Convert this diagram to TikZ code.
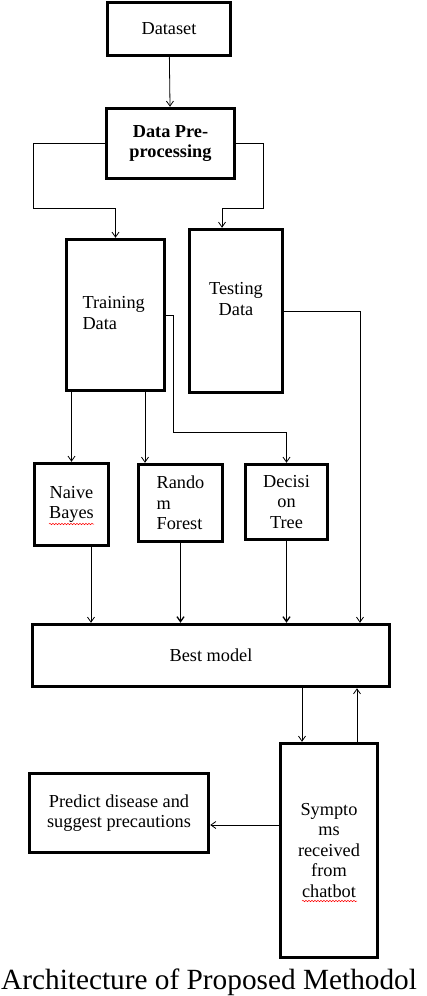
\documentclass[tikz,border=0pt]{standalone}
\usepackage{fontspec}
\setmainfont{Liberation Serif}
\usetikzlibrary{arrows.meta,decorations.pathmorphing}
\tikzset{
  box/.style={draw, line width=3.5pt, inner sep=0pt, align=center,
    font=\fontsize{18.3}{20.5}\selectfont},
  arr/.style={line width=0.8pt, -{Straight Barb[length=5pt,width=7pt]}},
  arrthick/.style={line width=1.3pt, -{Straight Barb[length=5pt,width=7pt]}},
  squiggle/.style={red, line width=0.5pt, decorate,
    decoration={snake, segment length=3pt, amplitude=0.7pt}}
}
\begin{document}
\begin{tikzpicture}[x=1pt,y=-1pt]
\clip (0,0) rectangle (426,996);
\fill[white] (0,0) rectangle (426,996);
% nodes
\node[box, minimum width=123pt, minimum height=53pt] (ds) at (169,29) {Dataset};
\node[box, minimum width=128pt, minimum height=70pt] (pre) at (170.5,143.5) {\bfseries Data Pre-\\\bfseries processing};
\node[box, minimum width=98pt, minimum height=151pt, align=left, text width=66pt] (train) at (115.5,315) {Training\\Data\phantom{g}};
\node[box, minimum width=93pt, minimum height=163pt] (test) at (236,311) {Testing\\Data\\[4pt]};
\node[box, minimum width=74pt, minimum height=82pt] (nb) at (71.5,504.5) {Naive\\Bayes};
\node[box, minimum width=84pt, minimum height=77pt, align=left] (rf) at (180.5,503) {Rando\\m\\Forest};
\node[box, minimum width=82pt, minimum height=75pt] (dec) at (286.5,502) {Decisi\\on\\Tree};
\node[box, minimum width=357pt, minimum height=62pt] (best) at (211,655.5) {Best model};
\node[box, minimum width=97pt, minimum height=214pt] (sym) at (329,850.5) {Sympto\\ms\\received\\from\\chatbot};
\node[box, minimum width=179pt, minimum height=79pt] (pred) at (119,813) {Predict disease and\\suggest precautions};
% spell-check squiggles
\draw[squiggle] (49,524) -- (94,524);
\draw[squiggle] (302,901) -- (357,901);
% connectors
\draw[arr] (ds) -- (pre);
\draw[arr] (pre.west) -- ++(-71,0) |- ([yshift=29pt]train.north) -- (train.north);
\draw[arr] (pre.east) -- ++(27,0) |- ([xshift=-14pt,yshift=19pt]test.north) -- ([xshift=-14pt]test.north);
\draw[arr] (train.east) -- ++(7,0) |- ([yshift=30pt]dec.north) -- (dec.north);
\draw[arr] (test.east) -| ([xshift=149pt]best.north);
\draw[arr] (nb.north |- train.south) -- (nb.north);
\draw[arr] ([xshift=29.5pt]train.south) -- ([xshift=29.5pt]train.south |- rf.north);
\draw[arr] ([xshift=19.5pt]nb.south) -- ([xshift=19.5pt]nb.south |- best.north);
\draw[arrthick] (rf.south) -- (rf.south |- best.north);
\draw[arrthick] (dec.south) -- (dec.south |- best.north);
\draw[arr] ([xshift=-27pt]sym.north |- best.south) -- ([xshift=-27pt]sym.north);
\draw[arr] ([xshift=28pt]sym.north) -- ([xshift=28pt]sym.north |- best.south);
\draw[arr] ([yshift=25.5pt]sym.west) -- ([yshift=25.5pt]sym.west -| pred.east);
% caption
\node[anchor=base west, inner sep=0pt, font=\fontsize{29.3}{30}\selectfont] (cap) at (1,989) {Architecture of Proposed Methodol};
\end{tikzpicture}
\end{document}
